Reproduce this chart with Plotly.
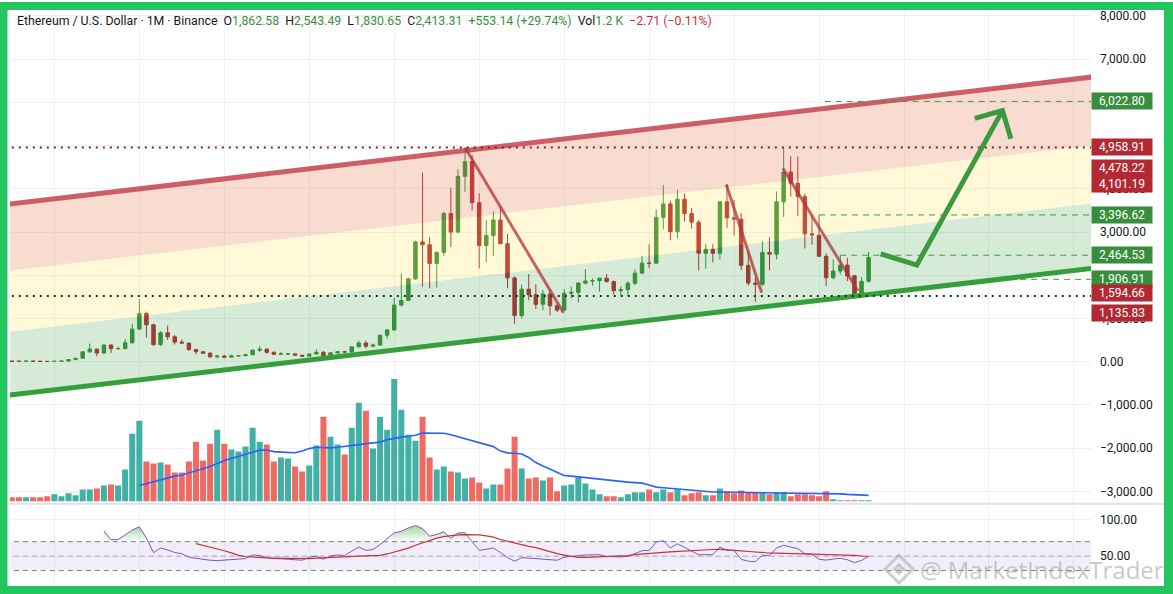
import plotly.graph_objects as go

W, H = 1173, 594

# ---------------- data ----------------
month_idx = list(range(11, 133))  # Jul 2016 .. last month (monthly candles)

opens = [12.4, 12.0, 11.5, 13.2, 11.4, 8.6, 8.0, 10.7, 15.6, 50,
         80, 230, 293, 201, 388, 302, 305, 441, 755, 1118,
         855, 397, 670, 578, 455, 433, 282, 232, 198, 113,
         133, 107, 136, 141, 161, 268, 290, 218, 172, 180,
         182, 151, 129, 180, 218, 133, 206, 231, 225, 345,
         434, 360, 386, 616, 737, 1312, 1418, 1918, 2773, 2707,
         2275, 2530, 3430, 3000, 4290, 4630, 3680, 2690, 2920, 3280,
         2730, 1940, 1070, 1680, 1550, 1330, 1570, 1295, 1195, 1585,
         1605, 1820, 1870, 1875, 1935, 1855, 1645, 1670, 1815, 2050,
         2282, 2280, 3340, 3650, 3010, 3760, 3430, 3230, 2510, 2600,
         2510, 3700, 3330, 3300, 2230, 1820, 1795, 2530, 2490, 3700,
         4390, 4130, 3820, 2960, 2930, 2440, 1944, 2098, 2236, 1990, 1522, 1862.58]
highs = [14.9, 12.9, 14.0, 13.3, 11.5, 9.1, 11.5, 16.5, 55, 81,
         230, 420, 300, 400, 395, 350, 525, 880, 1452, 1160,
         880, 712, 838, 620, 515, 435, 300, 235, 225, 160,
         160, 165, 145, 185, 287, 363, 317, 240, 224, 198,
         195, 153, 185, 288, 253, 228, 245, 253, 348, 490,
         488, 420, 622, 755, 1475, 2040, 1945, 2800, 4380, 2892,
         2550, 3470, 4030, 4460, 4950, 4780, 3900, 3280, 3480, 3580,
         2960, 1970, 1785, 2030, 1790, 1660, 1680, 1350, 1680, 1740,
         1840, 2140, 1930, 1930, 2030, 1880, 1750, 1865, 2135, 2450,
         2715, 3520, 4090, 3730, 3975, 3890, 3560, 3280, 2730, 2720,
         3720, 4100, 3745, 3440, 2550, 1955, 2790, 2880, 3940, 4950,
         4760, 4750, 3890, 3390, 3396.62, 2506, 2368, 2464.53, 2405, 2010, 1960, 2543.49]
lows = [9.8, 10.3, 11.3, 10.5, 8.3, 6.3, 7.9, 10.4, 15.4, 42,
        77, 210, 130, 190, 200, 285, 288, 418, 735, 560,
        367, 365, 505, 400, 420, 250, 167, 190, 100, 81,
        100, 102, 125, 140, 158, 230, 188, 162, 152, 155,
        135, 116, 126, 180, 86, 130, 178, 215, 222, 335,
        308, 335, 372, 535, 715, 1280, 1410, 1895, 1735, 1700,
        1720, 2450, 2650, 2970, 3930, 3500, 2160, 2300, 2450, 2770,
        1700, 880, 1000, 1420, 1220, 1190, 1075, 1150, 1190, 1460,
        1370, 1780, 1760, 1620, 1830, 1550, 1530, 1520, 1775, 2040,
        2170, 2270, 3060, 2810, 2860, 3240, 3080, 2110, 2150, 2300,
        2360, 3100, 2920, 2120, 1760, 1385, 1750, 2110, 2370, 3350,
        3820, 3370, 2620, 2710, 2430, 1752, 1907, 2021, 1867, 1482, 1469, 1830.65]
closes = [12.0, 11.5, 13.2, 11.4, 8.6, 8.0, 10.7, 15.6, 50, 80,
          230, 293, 201, 388, 302, 305, 441, 755, 1118, 855,
          397, 670, 578, 455, 433, 282, 232, 198, 113, 133,
          107, 136, 141, 161, 268, 290, 218, 172, 180, 182,
          151, 129, 180, 218, 133, 206, 231, 225, 345, 434,
          360, 386, 616, 737, 1312, 1418, 1918, 2773, 2707, 2275,
          2530, 3430, 3000, 4290, 4630, 3680, 2690, 2920, 3280, 2730,
          1940, 1070, 1680, 1550, 1330, 1570, 1295, 1195, 1585, 1605,
          1820, 1870, 1875, 1935, 1855, 1645, 1670, 1815, 2050, 2280,
          2280, 3340, 3650, 3010, 3760, 3430, 3230, 2510, 2600, 2510,
          3700, 3330, 3300, 2230, 1820, 1795, 2530, 2490, 3700, 4390,
          4130, 3820, 2960, 2930, 2440, 1944, 2098, 2236, 1983, 1522, 1860.17, 2413.31]

volume = [4, 4, 4, 4, 4, 5, 7, 5, 8, 6,
          12, 12, 13, 16, 17, 16, 32, 68, 81, 40,
          38, 39, 37, 29, 29, 40, 60, 41, 58, 72,
          58, 52, 50, 55, 74, 60, 57, 40, 44, 43,
          35, 30, 36, 56, 85, 65, 57, 47, 74, 99,
          91, 53, 85, 72, 123, 92, 67, 61, 85, 44,
          32, 35, 30, 29, 23, 24, 19, 13, 17, 17,
          33, 65, 33, 23, 24, 21, 24, 10, 16, 17,
          24, 18, 12, 7, 5, 5, 4, 7, 9, 9,
          12, 9, 12, 9, 12, 6, 8, 9, 6, 6,
          13, 10, 8, 11, 9, 9, 9, 7, 9, 9,
          5, 7, 7, 6, 5, 10, 2, 1, 1, 1, 1, 1]

vol_ma_idx = list(range(29, 133))
vol_ma = [16, 18, 20, 21.7, 23.5, 25.3, 26.5, 28.5, 30.5, 32.5,
          35, 38, 41, 43, 45, 47, 49, 51.5, 51.5, 50,
          49.5, 49, 48.8, 50.5, 53, 54.3, 54, 53.7, 54.3, 55,
          55.7, 57, 58, 58.5, 59.5, 62, 63.5, 64.5, 65.5, 66.5,
          68.7, 68.7, 68.7, 68.5, 67, 65, 62.5, 61, 58.5, 57,
          55, 50.5, 48.7, 48.4, 47.5, 44, 39, 35.5, 32.5, 29,
          26, 25.3, 24.5, 23.7, 22.8, 22, 21.2, 20.3, 19.8, 19.3,
          18.8, 18.3, 16.5, 14.3, 13.7, 13, 12.2, 11.7, 11, 10.5,
          10, 9.4, 9.3, 9.2, 9.1, 9, 8.9, 8.8, 8.8, 8.7,
          8.7, 8.6, 8.6, 8.5, 8.5, 8.4, 8.3, 8.3, 8, 7.5,
          7, 6.6, 6.2, 6]

rsi_idx = list(range(24, 133))
rsi = [84.7, 72.8, 72.8, 79, 86, 90.7, 75, 54.8, 61.3, 58.5,
       55, 53.4, 48.5, 47, 45.5, 44.3, 43.8, 44.3, 45, 45.5,
       46.6, 51.5, 51, 48, 46.5, 46.3, 46.1, 45, 44.3, 48.5,
       50, 45.6, 50.5, 51.5, 51, 57, 62.6, 58, 59, 66,
       74, 82.4, 84.3, 89, 92.5, 88, 77.5, 80, 83.8, 74.6,
       82, 82.4, 70, 58, 59.5, 61.3, 55, 48, 42.9, 47.9,
       47.3, 46.6, 45.8, 45.3, 44.3, 48.5, 49.5, 51, 51.6, 51.8,
       52, 49.5, 48.9, 48.9, 49.5, 54, 57.5, 58, 69.5, 71.4,
       61.3, 67.2, 62.6, 57, 52, 52.5, 52, 62.6, 58, 58,
       45.6, 42.9, 42.5, 51.1, 51, 61.3, 65, 62.5, 60.3, 53.4,
       52.5, 45.6, 44.5, 46, 47, 45, 41, 44, 49.8]

rsi_ma_idx = list(range(37, 133))
rsi_ma = [67.2, 64.9, 62.6, 59.6, 57.4, 54.5, 51, 49.5, 48.5, 47.9,
          47.5, 47.2, 46.9, 46.6, 46.3, 46.1, 46.6, 47.3, 47.9, 48.3,
          48.7, 49.2, 49.6, 50, 50.4, 50.8, 51, 53, 55.5, 58,
          61, 65, 68.5, 72, 75, 77, 78.5, 79.3, 79.7, 80,
          79.3, 78, 76.3, 73, 70.5, 67.5, 65.5, 63.5, 61.7, 58.8,
          55.5, 53.5, 51.5, 49.5, 48.2, 48.2, 48.5, 48.8, 49.1, 49.4,
          49.8, 50.8, 52, 53, 53.8, 54.4, 55.2, 55.9, 56.6, 57.2,
          57.8, 58.4, 58.8, 59.2, 59.4, 59, 58.3, 57.3, 56.4, 55.5,
          54.8, 54.3, 54.1, 53.9, 53.7, 53.5, 53.4, 53.1, 52.8, 52.6,
          52.4, 52.1, 51.6, 51, 50.2, 49.8]

# channel drawing (month index, price)
channel_x = [10, 170]
channel_upper = [3636, 6711]
channel_b1 = [2100, 5127]
channel_b2 = [678, 3792]
channel_lower = [-782, 2282]

# drawings
trend_x = [[75, 88.9], [111.9, 116.9], [119.9, 130.5]]
trend_y = [[4958.91, 1135.83], [4101.19, 1594.66], [4478.22, 1637]]
arrow_x = [133.7, 138.8, 150.9]
arrow_y = [2497, 2236, 5810]
arrowhead_x = [147.0, 150.9, 152.1]
arrowhead_y = [5632, 5810, 5157]
dashed_levels = [6022.80, 3396.62, 2464.53, 1906.91]
dashed_start = [125.8, 125, 128, 153.4]
dotted_levels = [4958.91, 1520]
dotted_colors = ["#7c1c24", "#17302a"]

label_values = [6022.80, 4958.91, 4478.22, 4101.19, 3396.62, 2464.53, 1906.91, 1594.66, 1135.83]
label_kinds = ["g", "r", "r", "r", "g", "g", "g", "r", "r"]

# ---------------- style ----------------
GREEN = "#388e3c"
RED = "#b22833"
VOL_UP = "#43b0a5"
VOL_DN = "#f06a64"
GRID = "#eef0f4"
BORDER = "#22c55e"
FONT = "Roboto"
TXT = "#131722"

def px_x(x):
    return x / W

def px_y(y):
    return 1 - y / H

fig = go.Figure()

# channel bands
fig.add_trace(go.Scatter(x=channel_x, y=channel_lower, mode="lines", line=dict(width=0),
                         hoverinfo="skip", showlegend=False))
fig.add_trace(go.Scatter(x=channel_x, y=channel_b2, mode="lines", line=dict(width=0),
                         fill="tonexty", fillcolor="rgba(50,155,55,0.2)", hoverinfo="skip", showlegend=False))
fig.add_trace(go.Scatter(x=channel_x, y=channel_b1, mode="lines", line=dict(width=0),
                         fill="tonexty", fillcolor="rgba(255,225,60,0.2)", hoverinfo="skip", showlegend=False))
fig.add_trace(go.Scatter(x=channel_x, y=channel_upper, mode="lines", line=dict(width=0),
                         fill="tonexty", fillcolor="rgba(231,115,67,0.25)", hoverinfo="skip", showlegend=False))

# candles
fig.add_trace(go.Candlestick(
    x=month_idx, open=opens, high=highs, low=lows, close=closes,
    increasing=dict(line=dict(color=GREEN, width=1), fillcolor=GREEN),
    decreasing=dict(line=dict(color=RED, width=1), fillcolor=RED),
    whiskerwidth=0, showlegend=False, hoverinfo="skip"))

# channel edges
fig.add_trace(go.Scatter(x=channel_x, y=channel_upper, mode="lines",
                         line=dict(color="rgba(200,78,88,0.9)", width=5), hoverinfo="skip", showlegend=False))
fig.add_trace(go.Scatter(x=channel_x, y=channel_lower, mode="lines",
                         line=dict(color="#35a03b", width=5), hoverinfo="skip", showlegend=False))

# dotted full-width levels
for lvl, col in zip(dotted_levels, dotted_colors):
    fig.add_trace(go.Scatter(x=[channel_x[0], channel_x[1]], y=[lvl, lvl], mode="lines",
                             line=dict(color=col, width=2, dash="2px,5px"), hoverinfo="skip", showlegend=False))
# dashed levels
for lvl, st in zip(dashed_levels, dashed_start):
    fig.add_trace(go.Scatter(x=[st, channel_x[1]], y=[lvl, lvl], mode="lines",
                             line=dict(color="#3f9b45", width=1, dash="6px,5px"), hoverinfo="skip", showlegend=False))

# trend lines
for tx, ty in zip(trend_x, trend_y):
    fig.add_trace(go.Scatter(x=tx, y=ty, mode="lines",
                             line=dict(color="rgba(178,50,58,0.75)", width=3), hoverinfo="skip", showlegend=False))

# arrow
fig.add_trace(go.Scatter(x=arrow_x, y=arrow_y, mode="lines",
                         line=dict(color="#3a9a40", width=5), hoverinfo="skip", showlegend=False))
fig.add_trace(go.Scatter(x=arrowhead_x, y=arrowhead_y, mode="lines",
                         line=dict(color="#3a9a40", width=5), hoverinfo="skip", showlegend=False))

# volume
vol_colors = [VOL_UP if c >= o else VOL_DN for o, c in zip(opens, closes)]
fig.add_trace(go.Bar(x=month_idx, y=volume, marker=dict(color=vol_colors, line=dict(width=0)),
                     width=0.85, yaxis="y2", hoverinfo="skip", showlegend=False))
fig.add_trace(go.Scatter(x=vol_ma_idx, y=vol_ma, mode="lines", yaxis="y2",
                         line=dict(color="#2962ff", width=1.6), hoverinfo="skip", showlegend=False))

# RSI
fig.add_trace(go.Scatter(x=rsi_idx, y=[70] * len(rsi_idx), mode="lines", yaxis="y3",
                         line=dict(width=0), hoverinfo="skip", showlegend=False))
fig.add_trace(go.Scatter(x=rsi_idx, y=rsi, mode="lines", yaxis="y3", fill="tonexty",
                         fillgradient=dict(type="vertical", start=70, stop=95,
                                           colorscale=[[0, "rgba(76,175,80,0)"], [1, "rgba(76,175,80,0.6)"]]),
                         line=dict(color="#7e57c2", width=1), hoverinfo="skip", showlegend=False))
fig.add_trace(go.Scatter(x=rsi_ma_idx, y=rsi_ma, mode="lines", yaxis="y3",
                         line=dict(color="#c9313b", width=1.2), hoverinfo="skip", showlegend=False))

shapes = []
# RSI band & levels
shapes.append(dict(type="rect", xref="x", yref="y3", x0=channel_x[0], x1=channel_x[1], y0=30, y1=70,
                   fillcolor="rgba(126,87,194,0.1)", line=dict(width=0), layer="between"))
for lv, col in [(70, "#787b86"), (30, "#787b86"), (50, "rgba(120,123,134,0.55)")]:
    shapes.append(dict(type="line", xref="x", yref="y3", x0=channel_x[0], x1=channel_x[1], y0=lv, y1=lv,
                       line=dict(color=col, width=1, dash="5px,4px"), layer="between"))
# pane separator
shapes.append(dict(type="line", xref="paper", yref="paper", x0=px_x(8), x1=px_x(1164),
                   y0=px_y(503.5), y1=px_y(503.5), line=dict(color="#e0e3eb", width=2), layer="above"))
# Binance-like logo for watermark
cx, cy, r = 899, 569, 14
shapes.append(dict(type="path", xref="paper", yref="paper",
                   path="M {},{} L {},{} L {},{} L {},{} Z".format(
                       px_x(cx - r), px_y(cy), px_x(cx), px_y(cy - r), px_x(cx + r), px_y(cy), px_x(cx), px_y(cy + r)),
                   line=dict(color="rgba(175,175,175,0.6)", width=3), fillcolor="rgba(0,0,0,0)", layer="above"))
shapes.append(dict(type="path", xref="paper", yref="paper",
                   path="M {},{} L {},{} L {},{} L {},{} Z".format(
                       px_x(cx - 5), px_y(cy), px_x(cx), px_y(cy - 5), px_x(cx + 5), px_y(cy), px_x(cx), px_y(cy + 5)),
                   line=dict(color="rgba(175,175,175,0.6)", width=2), fillcolor="rgba(175,175,175,0.4)", layer="above"))
# green frame
for x0, x1, y0, y1 in [(0, 7.5, 0, H), (1164, W, 0, H), (0, W, 0, 8), (0, W, 586, H)]:
    shapes.append(dict(type="rect", xref="paper", yref="paper", x0=px_x(x0), x1=px_x(x1),
                       y0=px_y(y1), y1=px_y(y0), fillcolor=BORDER, line=dict(width=0), layer="above"))

annotations = []
# price labels
for v, k in zip(label_values, label_kinds):
    annotations.append(dict(xref="paper", yref="y", x=px_x(1122), y=v, xanchor="center", yanchor="middle",
                            text="{:,.2f}".format(v), showarrow=False, width=58, height=14, borderpad=1,
                            bgcolor=GREEN if k == "g" else RED,
                            font=dict(family=FONT, size=12, color="white")))

G = "#388e3c"
R = "#cc2f3c"
sp = "\u00a0\u00a0"
header = ("Ethereum / U.S. Dollar · 1M · Binance" + sp +
          "O<span style='color:{g}'>1,862.58</span>" + sp +
          "H<span style='color:{g}'>2,543.49</span>" + sp +
          "L<span style='color:{g}'>1,830.65</span>" + sp +
          "C<span style='color:{g}'>2,413.31</span>" + sp +
          "<span style='color:{g}'>+553.14 (+29.74%)</span>" + sp +
          "Vol<span style='color:{g}'>1.2 K</span>" + sp +
          "<span style='color:{r}'>\u22122.71 (\u22120.11%)</span>").format(g=G, r=R)
annotations.append(dict(xref="paper", yref="paper", x=px_x(15), y=px_y(19), xanchor="left", yanchor="middle",
                        text=header, showarrow=False, font=dict(family=FONT, size=12.3, color=TXT)))
annotations.append(dict(xref="paper", yref="paper", x=px_x(918), y=px_y(569), xanchor="left", yanchor="middle",
                        text="@ MarketIndexTrader", showarrow=False,
                        font=dict(family="Open Sans", size=24, color="rgba(165,165,165,0.6)")))

x_lo = (10 + 66) / 7.0804
x_hi = (1091 + 66) / 7.0804

fig.update_layout(
    width=W, height=H, autosize=False,
    margin=dict(l=0, r=0, t=0, b=0),
    paper_bgcolor="white", plot_bgcolor="rgba(0,0,0,0)",
    showlegend=False,
    font=dict(family=FONT, size=12, color=TXT),
    xaxis=dict(domain=[px_x(10), px_x(1091)], range=[x_lo, x_hi], showticklabels=False, ticks="",
               showgrid=True, gridcolor=GRID, gridwidth=1, tick0=17, dtick=12, zeroline=False,
               showline=False, rangeslider=dict(visible=False), anchor="y3", fixedrange=True),
    yaxis=dict(domain=[px_y(503), px_y(9)], range=[-3274, 8115], side="right", anchor="x",
               tick0=0, dtick=1000, tickformat=",.2f", showgrid=True, gridcolor=GRID, zeroline=False,
               ticks="", ticklabelstandoff=8, tickfont=dict(family=FONT, size=12, color=TXT),
               showline=False, fixedrange=True),
    yaxis2=dict(overlaying="y", range=[-2, 493], visible=False, fixedrange=True),
    yaxis3=dict(domain=[px_y(586), px_y(505)], range=[8.62, 120.34], side="right", anchor="x",
                tickvals=[50, 100], tickformat=".2f", showgrid=True, gridcolor=GRID, zeroline=False,
                ticks="", ticklabelstandoff=8, tickfont=dict(family=FONT, size=12, color=TXT),
                showline=False, fixedrange=True),
    shapes=shapes,
    annotations=annotations,
)

fig.write_html("out.html", config=dict(displayModeBar=False, staticPlot=True),
               post_script="document.body.style.margin='0';document.body.style.padding='0';"
                           "document.documentElement.style.overflow='hidden';")
